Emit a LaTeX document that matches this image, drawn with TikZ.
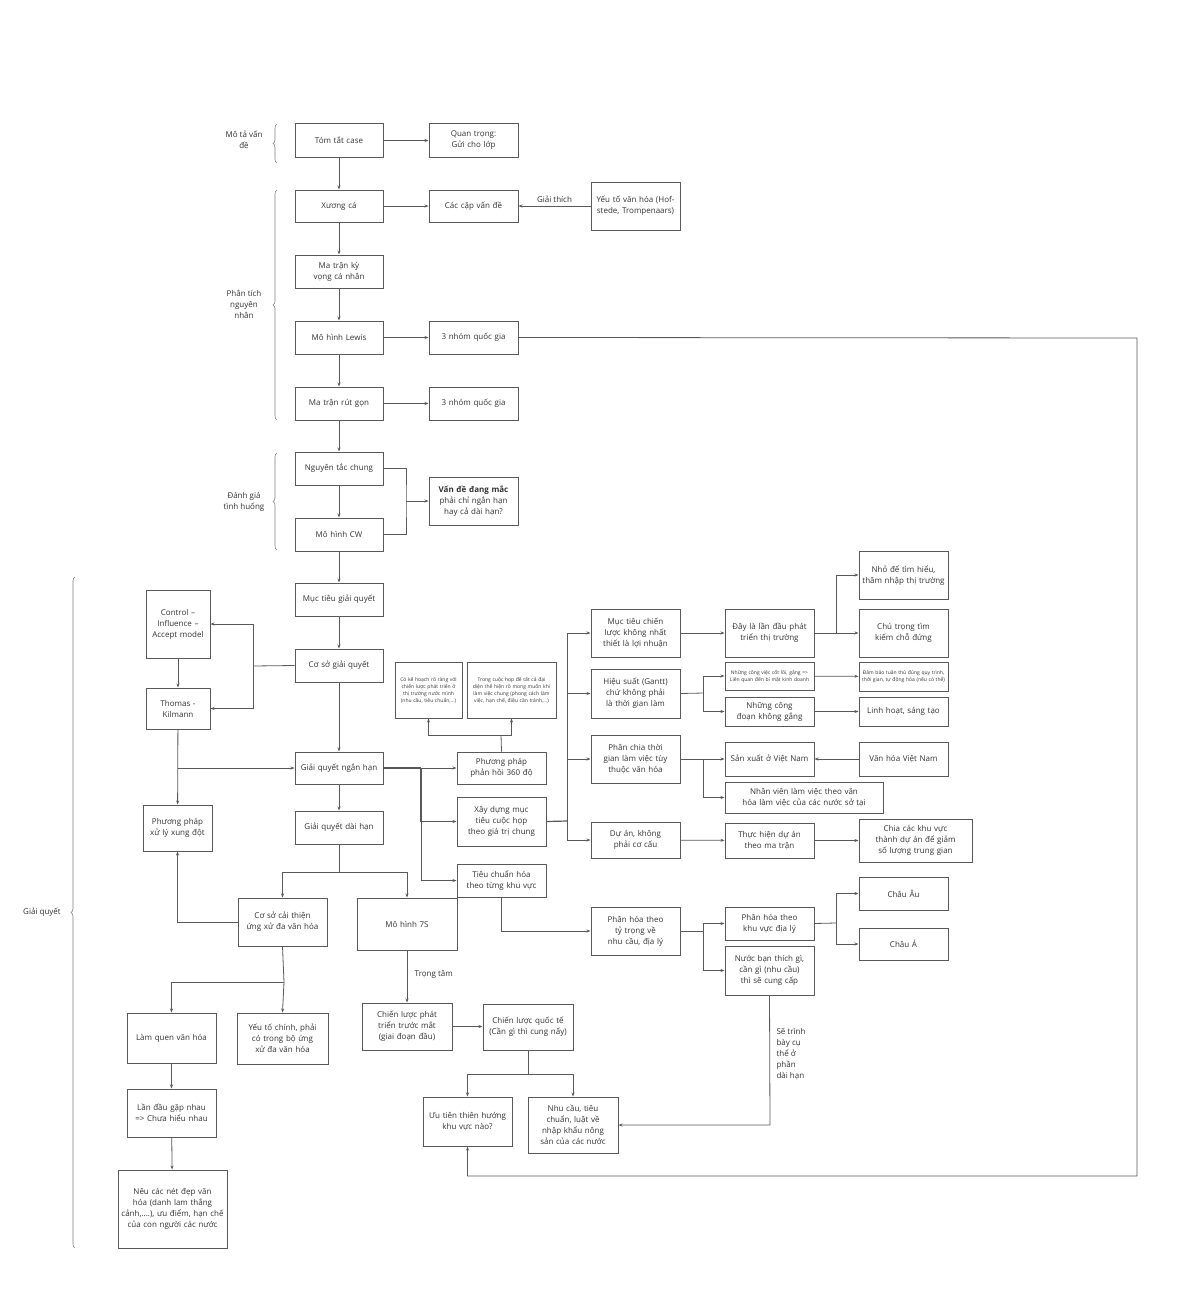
\documentclass[tikz,border=0pt]{standalone}
\usepackage{fontspec}
\setmainfont{Open Sans}
\usetikzlibrary{arrows.meta,decorations.pathreplacing}
\tikzset{
 box/.style={draw=black!65,line width=1pt,align=center,inner sep=1pt,font=\fontsize{8}{11}\selectfont,text=black!80},
 tiny/.style={font=\fontsize{5}{7}\selectfont},
 ln/.style={draw=black!65,line width=0.8pt},
 arr/.style={ln,-{Stealth[length=4pt,width=3pt]}},
 lbl/.style={font=\fontsize{8}{11}\selectfont,text=black!80,align=center},
 brc/.style={draw=black!50,line width=0.6pt,decorate,decoration={brace,amplitude=4pt,mirror}}
}
\newcommand\bx[7][]{\pgfmathsetmacro\bw{#5-#3}\pgfmathsetmacro\bh{#6-#4}\pgfmathsetmacro\tw{#5-#3-4}%
\node[box,#1,minimum width=\bw pt,minimum height=\bh pt,text width=\tw pt] (#2) at ({(#3+#5)/2},{-(#4+#6)/2}) {#7};}
\begin{document}
\begin{tikzpicture}[x=1pt,y=1pt]
\useasboundingbox[fill=white] (0,0) rectangle (1200,-1311);
% braces
\draw[brc] (277,-124) -- (277,-163);
\draw[brc] (277,-190) -- (277,-420);
\draw[brc] (277,-453) -- (277,-550);
\draw[brc] (75,-577) -- (75,-1248);
\node[lbl] (l1) at (244,-140) {Mô tả vấn\\đề};
\node[lbl] (l2) at (244,-304) {Phân tích\\nguyên\\nhân};
\node[lbl] (l3) at (244,-502) {Đánh giá\\tình huống};
\node[lbl] (l4) at (42,-912) {Giải quyết};
% boxes
\bx{tom}{295}{124}{383}{157}{Tóm tắt case}
\bx{quan}{429}{124}{518}{157}{Quan trọng: Gửi cho lớp}
\bx{xuong}{295}{190}{383}{222}{Xương cá}
\bx{capvd}{429}{190}{518}{222}{Các cặp vấn đề}
\bx{yeuto}{591}{182}{680}{230}{Yếu tố văn hóa (Hofstede, Trompenaars)}
\bx{matran}{295}{255}{383}{288}{Ma trận kỳ vọng cá nhân}
\bx{lewis}{295}{321}{383}{354}{Mô hình Lewis}
\bx{nhom1}{429}{321}{518}{354}{3 nhóm quốc gia}
\bx{rutgon}{295}{387}{383}{420}{Ma trận rút gọn}
\bx{nhom2}{429}{387}{518}{420}{3 nhóm quốc gia}
\bx{nguyen}{295}{452}{383}{485}{Nguyên tắc chung}
\bx{cw}{295}{518}{383}{551}{Mô hình CW}
\bx{vande}{429}{477}{518}{525}{\textbf{Vấn đề đang mắc} phải chỉ ngắn hạn hay cả dài hạn?}
\bx{muctieu}{295}{583}{383}{616}{Mục tiêu giải quyết}
\bx{coso}{295}{649}{383}{682}{Cơ sở giải quyết}
\bx{control}{146}{590}{210}{658}{Control -- Influence -- Accept model}
\bx{thomas}{146}{688}{210}{729}{Thomas - Kilmann}
\bx{ngan}{295}{752}{383}{784}{Giải quyết ngắn hạn}
\bx{dai}{295}{811}{383}{844}{Giải quyết dài hạn}
\bx{pp}{143}{805}{212}{851}{Phương pháp xử lý xung đột}
\bx[tiny]{ptt1}{395}{662}{462}{718}{Có kế hoạch rõ ràng với chiến lược phát triển ở thị trường nước mình (nhu cầu, tiêu chuẩn,...)}
\bx[tiny]{ptt2}{467}{662}{556}{718}{Trong cuộc họp để tất cả đại diện thể hiện rõ mong muốn khi làm việc chung (phong cách làm việc, hạn chế, điều cần tránh,...)}
\bx{phanhoi}{457}{752}{546}{784}{Phương pháp phản hồi 360 độ}
\bx{xaydung}{457}{797}{546}{846}{Xây dựng mục tiêu cuộc họp theo giá trị chung}
\bx{tieuchuan}{457}{864}{546}{897}{Tiêu chuẩn hóa theo từng khu vực}
\bx{coso2}{238}{898}{327}{946}{Cơ sở cải thiện ứng xử đa văn hóa}
\bx{mo7s}{357}{898}{457}{950}{Mô hình 7S}
\bx{lamquen}{127}{1013}{216}{1063}{Làm quen văn hóa}
\bx{yeutochinh}{237}{1013}{328}{1064}{Yếu tố chính, phải có trong bộ ứng xử đa văn hóa}
\bx{landau}{127}{1089}{216}{1137}{Lần đầu gặp nhau => Chưa hiểu nhau}
\bx{neu}{118}{1170}{227}{1248}{Nêu các nét đẹp văn hóa (danh lam thắng cảnh,....), ưu điểm, hạn chế của con người các nước}
\bx{chienluoc}{362}{1003}{452}{1050}{Chiến lược phát triển trước mắt (giai đoạn đầu)}
\bx{qt}{483}{1004}{573}{1050}{Chiến lược quốc tế (Cần gì thì cung nấy)}
\bx{uutien}{423}{1097}{512}{1146}{Ưu tiên thiên hướng khu vực nào?}
\bx{nhucau}{528}{1097}{618}{1153}{Nhu cầu, tiêu chuẩn, luật về nhập khẩu nông sản của các nước}
\bx{mtcl}{591}{609}{680}{657}{Mục tiêu chiến lược không nhất thiết là lợi nhuận}
\bx{hieusuat}{591}{669}{680}{718}{Hiệu suất (Gantt) chứ không phải là thời gian làm}
\bx{phanchia}{591}{735}{680}{783}{Phân chia thời gian làm việc tùy thuộc văn hóa}
\bx{duan}{591}{822}{680}{858}{Dự án, không phải cơ cấu}
\bx{phanhoa}{591}{907}{680}{955}{Phân hóa theo tỷ trọng về nhu cầu, địa lý}
\bx{daylan}{725}{609}{814}{657}{Đây là lần đầu phát triển thị trường}
\bx[tiny]{nhung1}{725}{662}{814}{690}{Những công việc cốt lõi, gắng => Liên quan đến bí mật kinh doanh}
\bx{nhung2}{725}{697}{814}{726}{Những công đoạn không gắng}
\bx{sanxuat}{725}{742}{814}{776}{Sản xuất ở Việt Nam}
\bx{nhanvien}{725}{782}{883}{813}{Nhân viên làm việc theo văn hóa làm việc của các nước sở tại}
\bx{thuchien}{725}{823}{814}{858}{Thực hiện dự án theo ma trận}
\bx{nho}{859}{551}{948}{599}{Nhỏ để tìm hiểu, thâm nhập thị trường}
\bx{chutrong}{859}{609}{948}{657}{Chú trọng tìm kiếm chỗ đứng}
\bx[tiny]{dambao}{859}{662}{948}{691}{Đảm bảo tuân thủ đúng quy trình, thời gian, tự động hóa (nếu có thể)}
\bx{linhhoat}{859}{697}{948}{726}{Linh hoạt, sáng tạo}
\bx{vanhoavn}{859}{742}{948}{776}{Văn hóa Việt Nam}
\bx{chia}{859}{819}{972}{862}{Chia các khu vực thành dự án để giảm số lượng trung gian}
\bx{phkv}{725}{907}{814}{940}{Phân hóa theo khu vực địa lý}
\bx{nuoc}{725}{946}{814}{995}{Nước bạn thích gì, cần gì (nhu cầu) thì sẽ cung cấp}
\bx{chauau}{859}{877}{948}{910}{Châu Âu}
\bx{chaua}{859}{928}{948}{960}{Châu Á}
% connectors top
\draw[arr] (tom) -- (quan);
\draw[arr] (tom) -- (xuong);
\draw[arr] (xuong) -- (capvd);
\draw[arr] (yeuto.west) -- node[lbl,above]{Giải thích} (yeuto.west -| capvd.east);
\draw[arr] (xuong) -- (matran);
\draw[arr] (matran) -- (lewis);
\draw[arr] (lewis) -- (nhom1);
\draw[arr] (lewis) -- (rutgon);
\draw[arr] (rutgon) -- (nhom2);
\draw[arr] (rutgon) -- (nguyen);
\draw[arr] (nguyen) -- (cw);
\draw[arr] (cw) -- (muctieu);
\draw[arr] (muctieu) -- (coso);
\draw[arr] (coso) -- (ngan);
\draw[arr] (ngan) -- (dai);
\coordinate (jv) at (406,-501);
\draw[ln] (nguyen.east) -| (jv) |- (cw.east);
\draw[arr] (jv) -- (vande.west |- jv);
% long loop
\coordinate (far) at (1137,-338);
\coordinate (bot) at (1137,-1176);
\draw[arr] (nhom1.east) -- (far) -- (bot) -| (uutien.south);
% left part
\coordinate (jc) at (253,-666);
\draw[ln] (coso.west) -- (jc);
\draw[arr] (jc) |- (control.east);
\draw[arr] (jc) |- (thomas.east);
\draw[arr] (control) -- (thomas);
\draw[arr] (thomas) -- (pp);
\coordinate (jt) at (178,-768);
\draw[arr] (jt) -- (ngan.west);
\draw[arr] (coso2.west) -| (pp.south);
% short-term branches
\coordinate (jn) at (421,-768);
\draw[ln,line width=1.2pt] (ngan.east) -- (jn);
\draw[arr] (jn) -- (phanhoi.west);
\draw[arr,line width=1.2pt] (jn) |- (xaydung.west);
\draw[arr] (jn) |- (tieuchuan.west);
\coordinate (jp) at (501,-735);
\draw[ln] (phanhoi.north) -- (jp);
\draw[arr] (jp) -| (ptt1.south);
\draw[arr] (jp) -| (ptt2.south);
\coordinate (jx) at (567,-821);
\draw[ln,line width=1.2pt] (xaydung.east) -- (jx);
\draw[arr] (jx) |- (mtcl.west);
\draw[arr] (jx) |- (hieusuat.west);
\draw[arr] (jx) |- (phanchia.west);
\draw[arr] (jx) |- (duan.west);
\draw[arr] (tieuchuan.south) |- (phanhoa.west);
% long-term
\coordinate (jd) at (339,-872);
\draw[ln] (dai.south) -- (jd);
\draw[arr] (jd) -| (coso2.north);
\draw[arr] (jd) -| (mo7s.north);
\draw[arr] (mo7s) -- node[lbl,right,pos=0.45,xshift=4pt]{Trọng tâm} (chienluoc);
\draw[arr] (chienluoc) -- (qt.west |- chienluoc);
\coordinate (jq) at (528,-1074);
\draw[ln] (qt.south) -- (jq);
\draw[arr] (jq) -| (uutien.north);
\draw[arr] (jq) -| (nhucau.north);
\coordinate (jl) at (284,-982);
\draw[ln] (coso2.south) -- (jl);
\draw[arr] (jl) -| (lamquen.north);
\draw[arr] (jl) -- (yeutochinh.north);
\draw[arr] (lamquen) -- (landau);
\draw[arr] (landau) -- (neu);
% right columns
\draw[arr] (mtcl) -- (daylan);
\coordinate (jy) at (836,-633);
\draw[ln] (daylan.east) -- (jy);
\draw[arr] (jy) |- (nho.west);
\draw[arr] (jy) -- (chutrong.west);
\coordinate (jh) at (703,-693);
\draw[ln] (hieusuat.east) -- (jh);
\draw[arr] (jh) |- (nhung1.west);
\draw[arr] (jh) |- (nhung2.west);
\draw[arr] (nhung1) -- (dambao);
\draw[arr] (nhung2) -- (linhhoat);
\coordinate (jf) at (703,-759);
\draw[ln] (phanchia.east) -- (jf);
\draw[arr] (jf) -- (sanxuat.west);
\draw[arr] (jf) |- (nhanvien.west);
\draw[arr] (vanhoavn) -- (sanxuat);
\draw[arr] (duan) -- (thuchien);
\draw[arr] (thuchien) -- (chia.west |- thuchien);
\coordinate (jg) at (703,-931);
\draw[ln] (phanhoa.east) -- (jg);
\draw[arr] (jg) |- (phkv.west);
\draw[arr] (jg) |- (nuoc.west);
\coordinate (jk) at (836,-923);
\draw[ln] (phkv.east) -- (jk);
\draw[arr] (jk) |- (chauau.west);
\draw[arr] (jk) |- (chaua.west);
\coordinate (jw) at (770,-1125);
\draw[arr] (nuoc.south) -- (jw) -- (nhucau.east |- jw);
\node[lbl,align=left,anchor=north west] (se) at (773,-1025) {Sẽ trình\\bày cụ\\thể ở\\phần\\dài hạn};
\end{tikzpicture}
\end{document}
